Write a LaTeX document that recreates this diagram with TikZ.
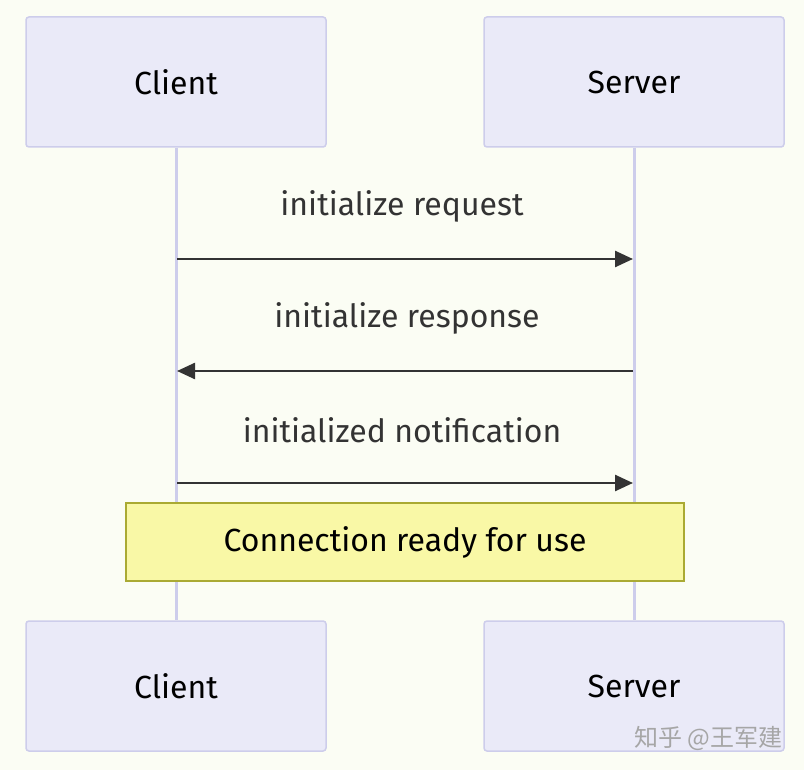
\documentclass[tikz,border=0pt]{standalone}
\usepackage{fontspec}
\setmainfont{Fira Sans}
\newfontfamily\cjk{Noto Sans CJK SC}
\usetikzlibrary{positioning,arrows.meta,backgrounds}
\definecolor{bgcol}{HTML}{FBFDF4}
\definecolor{actfill}{HTML}{EAEAF8}
\definecolor{actline}{HTML}{CDCDEB}
\definecolor{notefill}{HTML}{F9F8A6}
\definecolor{noteline}{HTML}{AAAA33}
\definecolor{msgcol}{HTML}{333333}
\tikzstyle{abox}=[rectangle, rounded corners=3pt, draw=actline, fill=actfill, line width=1.5pt,
                  minimum width=300pt, minimum height=130pt, inner sep=2pt, font=\fontsize{32}{38}\selectfont]
\tikzstyle{nbox}=[rectangle, draw=noteline, fill=notefill, line width=1.2pt,
                  minimum width=558pt, minimum height=78pt, font=\fontsize{32}{38}\selectfont]
\tikzstyle{lline}=[-, draw=actline, line width=3pt]
\tikzstyle{mline}=[-{Triangle[length=18pt,width=16pt]}, draw=msgcol, line width=2.5pt]
\tikzstyle{mlab}=[text=msgcol, font=\fontsize{32}{38}\selectfont]

\begin{document}
\begin{tikzpicture}[x=1pt,y=-1pt]
\fill[bgcol] (0,0) rectangle (804,770);
\useasboundingbox (0,0) rectangle (804,770);

\node (CLIENT) [abox] at (176,82) {Client};
\node (SERVER) [abox] at (634,82) {Server};
\node (CLIENTB) [abox] at (176,686) {Client};
\node (SERVERB) [abox] at (634,686) {Server};
 \draw[lline] (CLIENT.south) -- (CLIENTB.north);
 \draw[lline] (SERVER.south) -- (SERVERB.north);

\coordinate (C1) at (177,259); \coordinate (S1) at (633,259);
\coordinate (C2) at (177,371); \coordinate (S2) at (633,371);
\coordinate (C3) at (177,483); \coordinate (S3) at (633,483);
 \draw[mline] (C1) -- (S1);
 \draw[mline] (S2) -- (C2);
 \draw[mline] (C3) -- (S3);
\node (REQ) [mlab] at (402,206) {initialize request};
\node (RESP) [mlab] at (407,318) {initialize response};
\node (NOTIF) [mlab] at (402,430) {initialized notification};

\node (READY) [nbox] at (405,542) {Connection ready for use};

\node (WM) [text=gray!70, font=\cjk\fontsize{24}{28}\selectfont, anchor=east] at (786,738) {知乎 @王军建};
\end{tikzpicture}
\end{document}
